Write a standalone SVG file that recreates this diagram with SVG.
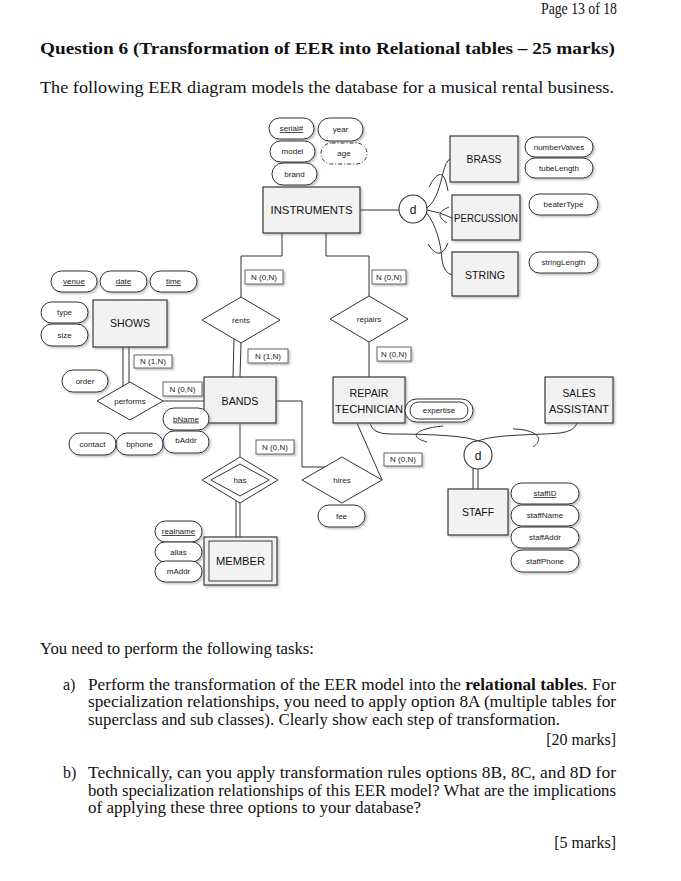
<svg xmlns="http://www.w3.org/2000/svg" width="681" height="881" viewBox="0 0 681 881">
<defs>
<filter id="sh" x="-10%" y="-10%" width="130%" height="130%">
<feDropShadow dx="1.5" dy="1.5" stdDeviation="0.8" flood-color="#777" flood-opacity="0.5"/>
</filter>
<style>
.ent{fill:#f2f2f2;stroke:#3a3a3a;stroke-width:1.2;filter:url(#sh)}
.att{fill:#fff;stroke:#333;stroke-width:1;filter:url(#sh)}
.card{fill:#fff;stroke:#555;stroke-width:0.9;filter:url(#sh)}
.rel{fill:#fff;stroke:#333;stroke-width:1}
.ln{fill:none;stroke:#333;stroke-width:1}
.et{font-family:"Liberation Sans",Arial,sans-serif;font-size:11px;text-anchor:middle;fill:#111}
.at{font-family:"Liberation Sans",Arial,sans-serif;font-size:8px;text-anchor:middle;fill:#222}
.ct{font-family:"Liberation Sans",Arial,sans-serif;font-size:8px;text-anchor:middle;fill:#222}
.dt{font-family:"Liberation Sans",Arial,sans-serif;font-size:12px;text-anchor:middle;fill:#111}
.u{text-decoration:underline}
.tx{font-family:"Liberation Serif","Times New Roman",serif;font-size:16px;fill:#111}
</style>
</defs>
<rect width="681" height="881" fill="#fff"/>

<!-- page text -->
<text class="tx" x="541" y="14" font-size="12.5" textLength="76" lengthAdjust="spacingAndGlyphs">Page 13 of 18</text>
<text class="tx" x="40" y="54" font-weight="bold" textLength="575" lengthAdjust="spacingAndGlyphs">Question 6 (Transformation of EER into Relational tables – 25 marks)</text>
<text class="tx" x="40" y="93" textLength="574" lengthAdjust="spacingAndGlyphs">The following EER diagram models the database for a musical rental business.</text>

<!-- connectors -->
<g id="connectors">
<line class="ln" x1="360" y1="210" x2="399" y2="210"/>
<path class="ln" d="M427,208 C437,200 440,185 443,173 Q446,161 450,159"/>
<path class="ln" d="M429,187 Q443,160 448,191"/>
<path class="ln" d="M427,210 Q440,212 452,218"/>
<path class="ln" d="M449,207 Q432,214 447,223"/>
<path class="ln" d="M426,212 C437,226 441,245 442,260 Q444,273 452,275"/>
<path class="ln" d="M428,244 Q440,263 448,243"/>
<polyline class="ln" points="282,233 282,256 241,256 241,297"/>
<polyline class="ln" points="326,233 326,256 369,256 369,296"/>
<line class="ln" x1="234" y1="339" x2="233" y2="377"/>
<line class="ln" x1="241" y1="343" x2="240" y2="377"/>
<line class="ln" x1="369" y1="342" x2="369" y2="377"/>
<line class="ln" x1="123" y1="347" x2="123" y2="386"/>
<line class="ln" x1="129" y1="347" x2="129" y2="383"/>
<line class="ln" x1="163" y1="401" x2="204" y2="401"/>
<line class="ln" x1="240" y1="423" x2="240" y2="457"/>
<line class="ln" x1="236" y1="501" x2="236" y2="537"/>
<line class="ln" x1="240" y1="503" x2="240" y2="537"/>
<polyline class="ln" points="276,401 302,401 302,467 325,467"/>
<line class="ln" x1="382" y1="480" x2="357" y2="423"/>
<path class="ln" d="M370,423 Q372,434 390,434 Q462,434 478,441"/>
<path class="ln" d="M443,426 C420,428 405,436 427,442"/>
<path class="ln" d="M478,441 C495,434 540,435 560,433 Q575,431 577,423"/>
<path class="ln" d="M513,429 C530,429 548,436 533,447"/>
<line class="ln" x1="473" y1="468" x2="473" y2="489"/>
<line class="ln" x1="478" y1="469" x2="478" y2="489"/>
</g>

<!-- INSTRUMENTS and attributes -->
<g id="instruments">
<rect class="ent" x="263" y="187" width="97" height="46"/>
<text class="et" x="311.5" y="214" textLength="82" lengthAdjust="spacingAndGlyphs">INSTRUMENTS</text>
</g>
<g id="att-serial"><rect class="att" x="269" y="118" width="45" height="21" rx="10.5"/><text class="at u" x="291.5" y="131">serial#</text></g>
<g id="att-year"><rect class="att" x="318" y="118" width="45" height="23" rx="11.5"/><text class="at" x="340.5" y="132">year</text></g>
<g id="att-model"><rect class="att" x="270" y="141" width="45" height="21" rx="10.5"/><text class="at" x="292.5" y="154">model</text></g>
<g id="att-age"><rect x="321" y="143" width="46" height="21" rx="10.5" fill="#fff" stroke="#333" stroke-width="1" stroke-dasharray="4,2,1,2"/><text class="at" x="344" y="156">age</text></g>
<g id="att-brand"><rect class="att" x="272" y="163" width="45" height="22" rx="11"/><text class="at" x="294.5" y="176.5">brand</text></g>

<g id="d1"><circle cx="413" cy="209" r="14" fill="#fff" stroke="#333" stroke-width="1.1"/><text class="dt" x="413" y="213.5">d</text></g>

<g id="brass"><rect class="ent" x="450" y="136" width="68" height="46"/><text class="et" x="484" y="163" textLength="35" lengthAdjust="spacingAndGlyphs">BRASS</text></g>
<g id="att-numberValves"><rect class="att" x="525" y="137" width="68" height="20" rx="10"/><text class="at" x="559" y="149.5">numberValves</text></g>
<g id="att-tubeLength"><rect class="att" x="525" y="158" width="68" height="20" rx="10"/><text class="at" x="559" y="170.5">tubeLength</text></g>
<g id="percussion"><rect class="ent" x="452" y="195" width="68" height="45"/><text class="et" x="486" y="222" textLength="64" lengthAdjust="spacingAndGlyphs">PERCUSSION</text></g>
<g id="att-beaterType"><rect class="att" x="529" y="194" width="69" height="21" rx="10.5"/><text class="at" x="563.5" y="207">beaterType</text></g>
<g id="string"><rect class="ent" x="452" y="252" width="66" height="44"/><text class="et" x="485" y="279" textLength="40" lengthAdjust="spacingAndGlyphs">STRING</text></g>
<g id="att-stringLength"><rect class="att" x="529" y="252" width="69" height="21" rx="10.5"/><text class="at" x="563.5" y="265">stringLength</text></g>

<!-- SHOWS -->
<g id="att-venue"><rect class="att" x="51" y="271" width="46" height="21" rx="10.5"/><text class="at u" x="74" y="284">venue</text></g>
<g id="att-date"><rect class="att" x="100" y="271" width="47" height="21" rx="10.5"/><text class="at u" x="123.5" y="284">date</text></g>
<g id="att-time"><rect class="att" x="150" y="271" width="47" height="21" rx="10.5"/><text class="at u" x="173.5" y="284">time</text></g>
<g id="att-type"><rect class="att" x="41" y="302" width="47" height="21" rx="10.5"/><text class="at" x="64.5" y="315">type</text></g>
<g id="att-size"><rect class="att" x="41" y="324" width="47" height="22" rx="11"/><text class="at" x="64.5" y="337.5">size</text></g>
<g id="shows"><rect class="ent" x="93" y="300" width="74" height="47"/><text class="et" x="130" y="327" textLength="40" lengthAdjust="spacingAndGlyphs">SHOWS</text></g>

<!-- relationships -->
<g id="rents"><polygon class="rel" points="241,297 280,320 241,343 202,320"/><text class="at" x="241" y="322.5">rents</text></g>
<g id="repairs"><polygon class="rel" points="369,296 408,319 369,342 330,319"/><text class="at" x="369" y="321.5">repairs</text></g>
<g id="att-order"><rect class="att" x="62" y="370" width="46" height="22" rx="11"/><text class="at" x="85" y="383.5">order</text></g>
<g id="performs"><polygon class="rel" points="130,382 163,401 130,420 97,401"/><text class="at" x="130" y="403.5">performs</text></g>

<!-- cardinalities -->
<g id="card1"><rect class="card" x="245" y="270" width="38" height="14"/><text class="ct" x="264" y="279.5">N (0,N)</text></g>
<g id="card2"><rect class="card" x="372" y="270" width="34" height="14"/><text class="ct" x="389" y="279.5">N (0,N)</text></g>
<g id="card3"><rect class="card" x="134" y="355" width="38" height="13"/><text class="ct" x="153" y="364">N (1,N)</text></g>
<g id="card4"><rect class="card" x="248" y="349" width="40" height="14"/><text class="ct" x="268" y="358.5">N (1,N)</text></g>
<g id="card5"><rect class="card" x="377" y="347" width="34" height="14"/><text class="ct" x="394" y="356.5">N (0,N)</text></g>
<g id="card6"><rect class="card" x="163" y="382" width="39" height="14"/><text class="ct" x="182.5" y="391.5">N (0,N)</text></g>
<g id="card7"><rect class="card" x="256" y="440" width="38" height="14"/><text class="ct" x="275" y="449.5">N (0,N)</text></g>
<g id="card8"><rect class="card" x="384" y="453" width="38" height="13"/><text class="ct" x="403" y="462">N (0,N)</text></g>

<!-- BANDS -->
<g id="bands"><rect class="ent" x="204" y="377" width="72" height="46"/><text class="et" x="240" y="405" textLength="37" lengthAdjust="spacingAndGlyphs">BANDS</text></g>
<g id="att-bName"><rect class="att" x="163" y="408" width="46" height="22" rx="11"/><text class="at u" x="186" y="421.5">bName</text></g>
<g id="att-bAddr"><rect class="att" x="163" y="431" width="46" height="22" rx="11"/><text class="at" x="186" y="443">bAddr</text></g>
<g id="att-bphone"><rect class="att" x="116" y="433" width="47" height="22" rx="11"/><text class="at" x="139.5" y="446.5">bphone</text></g>
<g id="att-contact"><rect class="att" x="69" y="433" width="47" height="22" rx="11"/><text class="at" x="92.5" y="446.5">contact</text></g>

<!-- REPAIR TECHNICIAN, SALES ASSISTANT -->
<g id="repairtech"><rect class="ent" x="333" y="377" width="72" height="46"/><text class="et" x="369" y="397" textLength="39" lengthAdjust="spacingAndGlyphs">REPAIR</text><text class="et" x="369" y="413" textLength="68" lengthAdjust="spacingAndGlyphs">TECHNICIAN</text></g>
<g id="att-expertise"><rect class="att" x="405" y="399" width="68" height="23" rx="11.5"/><rect x="410" y="402" width="58" height="17" rx="8.5" fill="none" stroke="#333" stroke-width="1"/><text class="at" x="439" y="413">expertise</text></g>
<g id="salesassistant"><rect class="ent" x="545" y="377" width="68" height="46"/><text class="et" x="579" y="397" textLength="33" lengthAdjust="spacingAndGlyphs">SALES</text><text class="et" x="579" y="413" textLength="60" lengthAdjust="spacingAndGlyphs">ASSISTANT</text></g>

<g id="d2"><circle cx="478" cy="455" r="14" fill="#fff" stroke="#333" stroke-width="1.1"/><text class="dt" x="478" y="459.5">d</text></g>

<!-- has, hires -->
<g id="has"><polygon class="rel" points="240,457 278,480 240,503 202,480"/><polygon class="rel" points="240,464 269,480 240,496 211,480"/><text class="at" x="240" y="482.5">has</text></g>
<g id="hires"><polygon class="rel" points="342,457 382,480 342,503 302,480"/><text class="at" x="342" y="482.5">hires</text></g>
<g id="att-fee"><rect class="att" x="318" y="505" width="47" height="22" rx="11"/><text class="at" x="341.5" y="518.5">fee</text></g>

<!-- MEMBER -->
<g id="member"><rect class="ent" x="204" y="537" width="73" height="48"/><rect x="209" y="541" width="63" height="40" fill="none" stroke="#3a3a3a" stroke-width="1"/><text class="et" x="240.5" y="565" textLength="49" lengthAdjust="spacingAndGlyphs">MEMBER</text></g>
<g id="att-realname"><rect class="att" x="155" y="521" width="47" height="21" rx="10.5"/><text class="at u" x="178.5" y="534">realname</text></g>
<g id="att-alias"><rect class="att" x="155" y="542" width="47" height="20" rx="10"/><text class="at" x="178.5" y="554.5">alias</text></g>
<g id="att-mAddr"><rect class="att" x="155" y="561" width="47" height="21" rx="10.5"/><text class="at" x="178.5" y="574">mAddr</text></g>

<!-- STAFF -->
<g id="staff"><rect class="ent" x="448" y="489" width="60" height="46"/><text class="et" x="478" y="516" textLength="32" lengthAdjust="spacingAndGlyphs">STAFF</text></g>
<g id="att-staffID"><rect class="att" x="511" y="483" width="68" height="21" rx="10.5"/><text class="at u" x="545" y="496">staffID</text></g>
<g id="att-staffName"><rect class="att" x="511" y="505" width="68" height="21" rx="10.5"/><text class="at" x="545" y="518">staffName</text></g>
<g id="att-staffAddr"><rect class="att" x="511" y="527" width="68" height="21" rx="10.5"/><text class="at" x="545" y="540">staffAddr</text></g>
<g id="att-staffPhone"><rect class="att" x="511" y="550" width="68" height="22" rx="11"/><text class="at" x="545" y="563.5">staffPhone</text></g>

<!-- tasks -->
<text class="tx" x="40" y="654" font-size="15.5" textLength="274" lengthAdjust="spacingAndGlyphs">You need to perform the following tasks:</text>
<text class="tx" x="63" y="690" font-size="15.5">a)</text>
<text class="tx" x="88" y="690" font-size="15.5" textLength="528" lengthAdjust="spacingAndGlyphs">Perform the transformation of the EER model into the <tspan font-weight="bold">relational tables</tspan>. For</text>
<text class="tx" x="88" y="707" font-size="15.5" textLength="528" lengthAdjust="spacingAndGlyphs">specialization relationships, you need to apply option 8A (multiple tables for</text>
<text class="tx" x="88" y="725" font-size="15.5" textLength="472" lengthAdjust="spacingAndGlyphs">superclass and sub classes). Clearly show each step of transformation.</text>
<text class="tx" x="616" y="745" font-size="15.5" text-anchor="end">[20 marks]</text>
<text class="tx" x="63" y="778" font-size="15.5">b)</text>
<text class="tx" x="88" y="778" font-size="15.5" textLength="528" lengthAdjust="spacingAndGlyphs">Technically, can you apply transformation rules options 8B, 8C, and 8D for</text>
<text class="tx" x="88" y="796" font-size="15.5" textLength="528" lengthAdjust="spacingAndGlyphs">both specialization relationships of this EER model? What are the implications</text>
<text class="tx" x="88" y="813" font-size="15.5" textLength="333" lengthAdjust="spacingAndGlyphs">of applying these three options to your database?</text>
<text class="tx" x="616" y="848" font-size="15.5" text-anchor="end">[5 marks]</text>
</svg>
